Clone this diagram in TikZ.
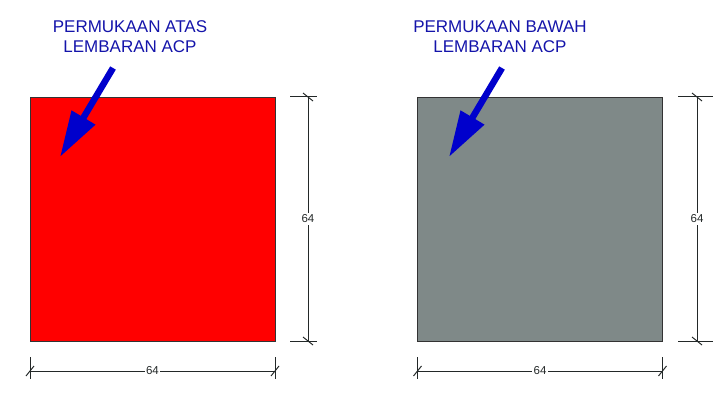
\documentclass[tikz,border=0pt]{standalone}
\usepackage{fontspec}
\setmainfont{Liberation Sans}
\usetikzlibrary{arrows.meta}
\definecolor{acpred}{RGB}{255,0,0}
\definecolor{acpgray}{RGB}{127,137,136}
\definecolor{labelblue}{RGB}{20,20,170}
\definecolor{arrowblue}{RGB}{0,0,204}
\definecolor{dimgray}{RGB}{35,40,40}
\tikzset{
  panel/.style={draw=black!80, line width=0.8pt, minimum width=245pt, minimum height=244pt, inner sep=0pt, outer sep=0pt},
  callout/.style={text=labelblue, font=\fontsize{17}{20}\selectfont, align=center},
  pointer/.style={arrowblue, line width=6.5pt, -{Triangle[length=46pt,width=26pt]}},
  dimline/.style={dimgray, line width=1pt},
  dimtext/.style={fill=white, inner sep=1.5pt, font=\fontsize{11.5}{13}\selectfont}
}
\begin{document}
\begin{tikzpicture}[x=1pt,y=-1pt]
      \useasboundingbox (0,0) rectangle (724,401);
      % left panel
      \node[panel, fill=acpred] (atas) at (152.5,219) {};
      \node[callout] (ataslabel) at (130,37) {PERMUKAAN ATAS\\LEMBARAN ACP};
      \coordinate (atasfrom) at (113,68);
      \coordinate (atasto) at (60,157);
      \draw[pointer] (atasfrom) -- (atasto);
      % right panel
      \node[panel, fill=acpgray] (bawah) at (540,219) {};
      \node[callout] (bawahlabel) at (500,37) {PERMUKAAN BAWAH\\LEMBARAN ACP};
      \coordinate (bawahfrom) at (502,68);
      \coordinate (bawahto) at (449,157);
      \draw[pointer] (bawahfrom) -- (bawahto);
      % left panel, height
      \coordinate (AV1) at (308,97);
      \coordinate (AV2) at (308,341);
      \draw[dimline] (290,97) -- (317,97);
      \draw[dimline] (290,341) -- (317,341);
      \draw[dimline] (AV1) -- node[dimtext] (AVtext) {64} (AV2);
      \draw[dimline] (AV1) ++(-5,-4) -- ++(10,8);
      \draw[dimline] (AV2) ++(-5,-4) -- ++(10,8);
      % left panel, width
      \coordinate (AH1) at (30,371);
      \coordinate (AH2) at (275,371);
      \draw[dimline] (30,357) -- (30,379);
      \draw[dimline] (275,357) -- (275,379);
      \draw[dimline] (AH1) -- node[dimtext] (AHtext) {64} (AH2);
      \draw[dimline] (AH1) ++(-4,5) -- ++(8,-10);
      \draw[dimline] (AH2) ++(-4,5) -- ++(8,-10);
      % right panel, height
      \coordinate (BV1) at (697,97);
      \coordinate (BV2) at (697,341);
      \draw[dimline] (678,97) -- (713,97);
      \draw[dimline] (678,341) -- (713,341);
      \draw[dimline] (BV1) -- node[dimtext] (BVtext) {64} (BV2);
      \draw[dimline] (BV1) ++(-5,-4) -- ++(10,8);
      \draw[dimline] (BV2) ++(-5,-4) -- ++(10,8);
      % right panel, width
      \coordinate (BH1) at (417.5,371);
      \coordinate (BH2) at (662.5,371);
      \draw[dimline] (417.5,357) -- (417.5,379);
      \draw[dimline] (662.5,357) -- (662.5,379);
      \draw[dimline] (BH1) -- node[dimtext] (BHtext) {64} (BH2);
      \draw[dimline] (BH1) ++(-4,5) -- ++(8,-10);
      \draw[dimline] (BH2) ++(-4,5) -- ++(8,-10);
\end{tikzpicture}
\end{document}
